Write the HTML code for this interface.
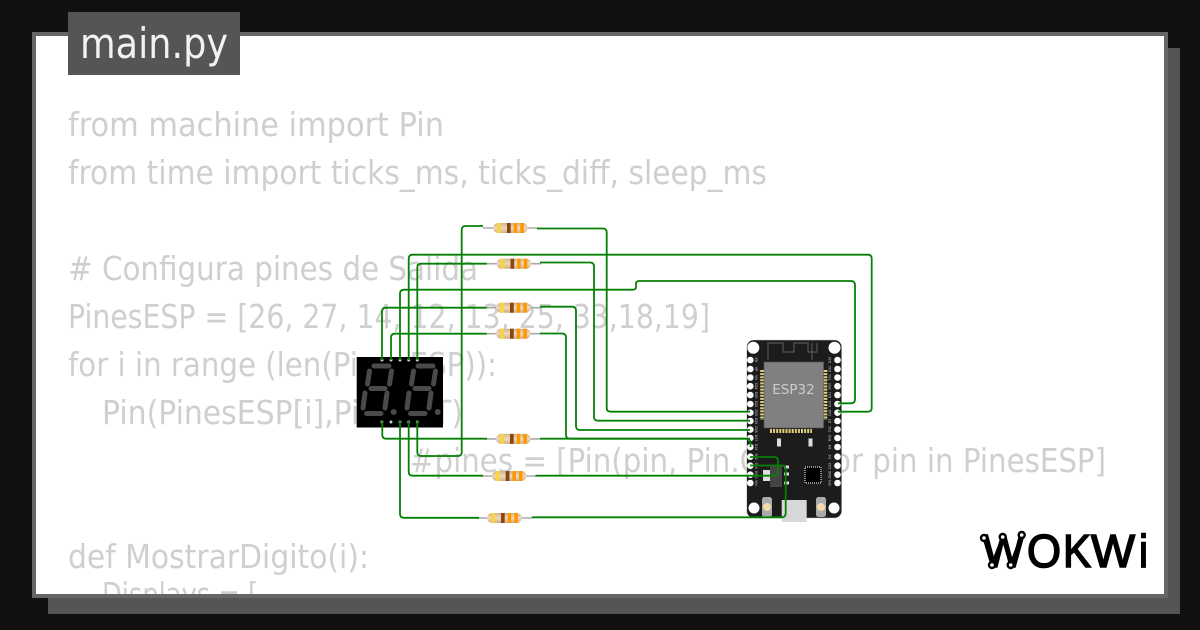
<!DOCTYPE html>
<html><head><meta charset="utf-8"><style>
html,body{margin:0;padding:0;background:#111;width:1200px;height:630px;overflow:hidden}
svg{display:block}
.c{font-family:"DejaVu Sans",sans-serif;font-size:33px;fill:#cfcfcf}
.l{font-family:"Liberation Sans",sans-serif;font-size:3.4px;fill:#ccc}
.w{font-family:"Liberation Sans",sans-serif;font-size:46px;fill:#000;stroke:#000;stroke-width:1.6}
</style></head><body>
<svg width="1200" height="630" viewBox="0 0 1200 630" xmlns="http://www.w3.org/2000/svg">
<defs>
<clipPath id="card"><rect x="36" y="36" width="1128" height="558"/></clipPath>
<linearGradient id="tan" x1="0" y1="0" x2="0" y2="1"><stop offset="0" stop-color="#d2b48c"/><stop offset=".5" stop-color="#eed9bb"/><stop offset="1" stop-color="#cfae84"/></linearGradient>
<g id="res">
<path d="M-10,5H1M34,5H44.700" stroke="#aaa" stroke-width="1.600"/>
<rect x="0" y="0" width="34.700" height="10" rx="5" fill="url(#tan)"/>
<rect x="4" y="0" width="4" height="10" fill="#f5d547"/>
<rect x="14" y="0" width="3.700" height="10" fill="#8b4513"/>
<rect x="20.700" y="0" width="3.500" height="10" fill="#ff9800"/>
<rect x="27.300" y="0" width="3.500" height="10" fill="#ff9800"/>
</g>
<g id="dig" stroke="#4a4a4a" stroke-width="5" stroke-linecap="round" fill="none">
<path d="M374,366H389"/><path d="M371,388.500H385"/><path d="M366.500,413.500H381"/>
<path d="M369.500,371L367.500,384"/><path d="M391.500,371L389.500,384"/>
<path d="M365,393L363,408"/><path d="M387,393L385,408"/>
<circle cx="393.700" cy="412" r="3" fill="#4a4a4a" stroke="none"/>
</g>
</defs>
<rect x="48" y="48" width="1132" height="566" fill="#555"/>
<rect x="34" y="34" width="1132" height="562" fill="#fff" stroke="#666" stroke-width="4"/>
<g clip-path="url(#card)">
<text class="c" x="68" y="136" textLength="376" lengthAdjust="spacingAndGlyphs">from machine import Pin</text>
<text class="c" x="68" y="184" textLength="699" lengthAdjust="spacingAndGlyphs">from time import ticks_ms, ticks_diff, sleep_ms</text>
<text class="c" x="68" y="280" textLength="410" lengthAdjust="spacingAndGlyphs"># Configura pines de Salida</text>
<text class="c" x="68" y="328" textLength="642" lengthAdjust="spacingAndGlyphs">PinesESP = [26, 27, 14, 12, 13, 25, 33,18,19]</text>
<text class="c" x="68" y="376" textLength="429" lengthAdjust="spacingAndGlyphs">for i in range (len(PinesESP)):</text>
<text class="c" x="102" y="424" textLength="361" lengthAdjust="spacingAndGlyphs">Pin(PinesESP[i],Pin.OUT)</text>
<text class="c" x="410" y="472" textLength="696" lengthAdjust="spacingAndGlyphs">#pines = [Pin(pin, Pin.OUT) for pin in PinesESP]</text>
<text class="c" x="68" y="568" textLength="301" lengthAdjust="spacingAndGlyphs">def MostrarDigito(i):</text>
<text class="c" x="102" y="606" textLength="156" lengthAdjust="spacingAndGlyphs">Displays = [</text>
</g>

<!-- 7 segment -->
<rect x="356.700" y="357" width="86.300" height="70.500" fill="#000"/>
<use href="#dig"/><use href="#dig" x="44"/>
<g fill="#ccc">
<circle cx="382" cy="360" r="1.500"/><circle cx="391" cy="360" r="1.500"/><circle cx="400" cy="360" r="1.500"/><circle cx="408.700" cy="360" r="1.500"/><circle cx="417.300" cy="360" r="1.500"/>
<circle cx="382" cy="422" r="1.500"/><circle cx="391" cy="422" r="1.500"/><circle cx="400" cy="422" r="1.500"/><circle cx="408.700" cy="422" r="1.500"/><circle cx="417.300" cy="422" r="1.500"/>
</g>

<!-- ESP32 -->
<rect x="746.700" y="340" width="95" height="178" rx="7" fill="#1c1c1c" stroke="#ccc" stroke-width=".6"/>
<path d="M768,360V343H783V352H794V343H808V352H817V343M812,343V360" fill="none" stroke="#555" stroke-width="1.200"/>
<rect x="764" y="362" width="59.500" height="66" fill="#808080" stroke="#555" stroke-width=".6"/>
<path d="M762,370V420M825.500,370V420" stroke="#e0cf7a" stroke-width="3.600" stroke-dasharray="2 1.100"/>
<path d="M770,431H812" stroke="#e0cf7a" stroke-width="4" stroke-dasharray="2 1.100"/>
<text x="793.500" y="394" text-anchor="middle" font-family="'DejaVu Sans',sans-serif" font-size="13.500" fill="#ccc">ESP32</text>
<g fill="#fff">
<circle cx="753.300" cy="347.700" r="6"/><circle cx="834.500" cy="347.700" r="6"/>
<circle cx="754" cy="508" r="5.500"/><circle cx="834" cy="508" r="5.500"/>
<circle cx="750.300" cy="360" r="3.300"/><circle cx="750.300" cy="369" r="3.300"/><circle cx="750.300" cy="377.500" r="3.300"/><circle cx="750.300" cy="386.200" r="3.300"/><circle cx="750.300" cy="395" r="3.300"/><circle cx="750.300" cy="404" r="3.300"/><circle cx="750.300" cy="412.700" r="3.300"/><circle cx="750.300" cy="421" r="3.300"/><circle cx="750.300" cy="429.500" r="3.300"/><circle cx="750.300" cy="438" r="3.300"/><circle cx="750.300" cy="447" r="3.300"/><circle cx="750.300" cy="456.700" r="3.300"/><circle cx="750.300" cy="465.700" r="3.300"/><circle cx="750.300" cy="474.700" r="3.300"/><circle cx="750.300" cy="483" r="3.300"/>
<circle cx="837.500" cy="360" r="3.300"/><circle cx="837.500" cy="369" r="3.300"/><circle cx="837.500" cy="377.500" r="3.300"/><circle cx="837.500" cy="386.200" r="3.300"/><circle cx="837.500" cy="395" r="3.300"/><circle cx="837.500" cy="404" r="3.300"/><circle cx="837.500" cy="412.700" r="3.300"/><circle cx="837.500" cy="421" r="3.300"/><circle cx="837.500" cy="429.500" r="3.300"/><circle cx="837.500" cy="438" r="3.300"/><circle cx="837.500" cy="447" r="3.300"/><circle cx="837.500" cy="456.700" r="3.300"/><circle cx="837.500" cy="465.700" r="3.300"/><circle cx="837.500" cy="474.700" r="3.300"/><circle cx="837.500" cy="483" r="3.300"/>
</g>
<g text-anchor="middle">
<text class="l" transform="translate(755,360) rotate(90)">EN</text><text class="l" transform="translate(755,369) rotate(90)">VP</text><text class="l" transform="translate(755,377.500) rotate(90)">VN</text><text class="l" transform="translate(755,386.200) rotate(90)">D34</text><text class="l" transform="translate(755,395) rotate(90)">D35</text><text class="l" transform="translate(755,404) rotate(90)">D32</text><text class="l" transform="translate(755,412.700) rotate(90)">D33</text><text class="l" transform="translate(755,421) rotate(90)">D25</text><text class="l" transform="translate(755,429.500) rotate(90)">D26</text><text class="l" transform="translate(755,438) rotate(90)">D27</text><text class="l" transform="translate(755,447) rotate(90)">D14</text><text class="l" transform="translate(755,456.700) rotate(90)">D12</text><text class="l" transform="translate(755,465.700) rotate(90)">D13</text><text class="l" transform="translate(755,474.700) rotate(90)">GND</text><text class="l" transform="translate(755,483) rotate(90)">VIN</text>
<text class="l" transform="translate(831,360) rotate(-90)">D23</text><text class="l" transform="translate(831,369) rotate(-90)">D22</text><text class="l" transform="translate(831,377.500) rotate(-90)">TX0</text><text class="l" transform="translate(831,386.200) rotate(-90)">RX0</text><text class="l" transform="translate(831,395) rotate(-90)">D21</text><text class="l" transform="translate(831,404) rotate(-90)">D19</text><text class="l" transform="translate(831,412.700) rotate(-90)">D18</text><text class="l" transform="translate(831,421) rotate(-90)">D5</text><text class="l" transform="translate(831,429.500) rotate(-90)">TX2</text><text class="l" transform="translate(831,438) rotate(-90)">RX2</text><text class="l" transform="translate(831,447) rotate(-90)">D4</text><text class="l" transform="translate(831,456.700) rotate(-90)">D2</text><text class="l" transform="translate(831,465.700) rotate(-90)">D15</text><text class="l" transform="translate(831,474.700) rotate(-90)">GND</text><text class="l" transform="translate(831,483) rotate(-90)">3V3</text>
</g>
<rect x="777" y="438.500" width="4" height="8" fill="#ddd"/><rect x="808.500" y="438.500" width="4" height="8" fill="#ddd"/>
<rect x="770" y="465" width="12" height="22" fill="#444"/>
<rect x="763" y="470" width="7" height="11" fill="#ddd"/>
<rect x="784" y="465.500" width="5" height="3" fill="#ddd"/><rect x="784" y="472.500" width="5" height="3" fill="#ddd"/><rect x="784" y="481.500" width="5" height="3" fill="#ddd"/>
<rect x="805" y="467" width="16" height="16" fill="#000" stroke="#bbb" stroke-width="1.400" stroke-dasharray="1 1"/>
<rect x="762" y="497" width="10" height="20" rx="2.500" fill="#aaa"/><circle cx="767" cy="507" r="4" fill="#f5d9a8"/>
<rect x="816" y="497" width="10" height="20" rx="2.500" fill="#aaa"/><circle cx="821" cy="507" r="4" fill="#f5d9a8"/>
<rect x="781.700" y="500" width="25" height="22" fill="#d8d8d8"/>

<!-- resistors -->
<use href="#res" x="493" y="223"/>
<use href="#res" x="496.500" y="258.700"/>
<use href="#res" x="496" y="302.700"/>
<use href="#res" x="496" y="328.700"/>
<use href="#res" x="496" y="433.900"/>
<use href="#res" x="491.700" y="471"/>
<use href="#res" x="487" y="513"/>

<!-- wires -->
<g fill="none" stroke="#058005" stroke-width="1.800">
<path d="M417.300,421V452q0,4 4,4H458q3.700,0 3.700,-4V230q0,-4 4,-4H483"/>
<path d="M537,228.500H603q3.700,0 3.700,4V408q0,3.700 4,3.700H750"/>
<path d="M408.700,360V258.700q0,-4 4,-4H868q3.700,0 3.700,4V408q0,3.700 -4,3.700H838"/>
<path d="M417.300,360V267.700q0,-4 4,-4H486.700"/>
<path d="M540,262.500H590q4,0 4,4V417q0,3.700 4,3.700H750"/>
<path d="M400,360V293.700q0,-4 4,-4H633q3,0 3,-3V284q0,-3 3,-3H851q4,0 4,4V399.300q0,4 -4,4H838"/>
<path d="M382,360V311.700q0,-4 4,-4H486.700"/>
<path d="M540,306.700H572q4,0 4,4V426q0,4 4,4H750"/>
<path d="M391,360V337.700q0,-4 4,-4H486.700"/>
<path d="M540,333.500H562q4,0 4,4V434.700q0,4 4,4H750"/>
<path d="M382.300,421V434.700q0,4 4,4H487"/>
<path d="M540,438.700H746q4.500,0 4.500,4V447"/>
<path d="M408.700,421V471.700q0,4 4,4H483"/>
<path d="M535.500,475.700H774q4,0 4,-4V461q0,-4 -4,-4H750"/>
<path d="M400,421V513.800q0,4 4,4H479"/>
<path d="M531.700,517.300H781.700q4,0 4,-4V469q0,-3.500 -4,-3.500H750"/>
</g>

<!-- tab -->
<rect x="68" y="12" width="172" height="63" fill="#555"/>
<text x="80" y="58" textLength="148" lengthAdjust="spacingAndGlyphs" font-family="'DejaVu Sans',sans-serif" font-size="42" fill="#f2f2f2">main.py</text>

<!-- logo -->
<text class="w" x="983" y="567" textLength="41" lengthAdjust="spacingAndGlyphs">W</text>
<text class="w" x="1027" y="567" textLength="34" lengthAdjust="spacingAndGlyphs">O</text>
<text class="w" x="1063" y="567" textLength="28" lengthAdjust="spacingAndGlyphs">K</text>
<text class="w" x="1091" y="567" textLength="44" lengthAdjust="spacingAndGlyphs">W</text>
<text class="w" x="1139" y="567" textLength="9" lengthAdjust="spacingAndGlyphs">i</text>
<path d="M984,538L992,565L1002.700,537L1010.700,565L1021.700,535" fill="none" stroke="#000" stroke-width="3"/>
<g fill="#fff" stroke="#000" stroke-width="2.400">
<circle cx="984" cy="538" r="3"/><circle cx="1002.700" cy="537" r="3"/><circle cx="1021.700" cy="535" r="3"/><circle cx="992" cy="565" r="3"/><circle cx="1010.700" cy="565" r="3"/>
</g>
</svg>
</body></html>
